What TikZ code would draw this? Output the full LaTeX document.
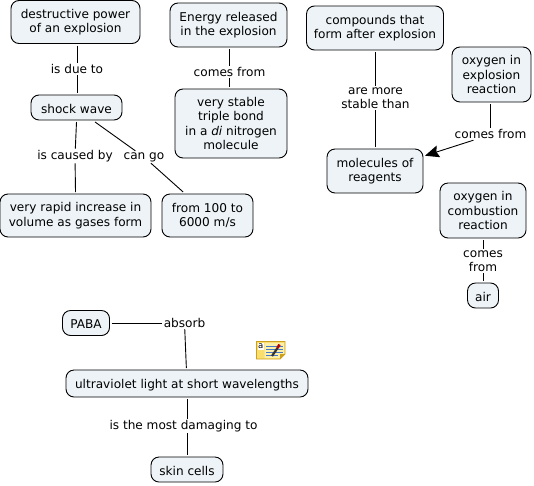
\documentclass[tikz,border=0pt]{standalone}
\usepackage{fontspec}
\setmainfont{DejaVu Sans}
\usetikzlibrary{arrows.meta}
\definecolor{conceptfill}{RGB}{237,243,246}
\definecolor{noteyellow}{RGB}{250,222,110}
\definecolor{notepale}{RGB}{253,240,170}
\definecolor{noteedge}{RGB}{205,160,30}
\definecolor{noteblue}{RGB}{70,120,200}
\tikzset{
  concept/.style={draw, fill=conceptfill, rounded corners=8pt, line width=0.9pt, align=center,
    inner sep=0pt, outer sep=2pt, font=\fontsize{12.1}{14.5}\selectfont,
    execute at begin node=\rule{0pt}{11.5pt}},
  linkphrase/.style={fill=white, align=center, inner sep=1.5pt, outer sep=0pt,
    font=\fontsize{12.1}{14.5}\selectfont},
  link/.style={line width=0.9pt}
}
\begin{document}
\begin{tikzpicture}[x=1pt, y=-1pt, >={Stealth[length=14pt,width=12pt,inset=2pt]}]
  \useasboundingbox (0,0) rectangle (534,485);
  % explosion, left part
  \node[concept, minimum width=129, minimum height=43] (destructive) at (75.5,22) {destructive power\\of an explosion};
  \node[concept, minimum width=91, minimum height=25] (shock) at (76.5,107.5) {shock wave};
  \node[concept, minimum width=151, minimum height=43] (rapid) at (75.5,215.5) {very rapid increase in\\volume as gases form};
  \node[concept, minimum width=91, minimum height=43] (speed) at (207.5,215.5) {from 100 to\\6000 m/s};
  \node[linkphrase] (dueto) at (77,69) {is due to};
  \node[linkphrase] (causedby) at (75,156) {is caused by};
  \node[linkphrase] (cango) at (144,157) {can go};
  \draw[link] (dueto |- destructive.south) -- (dueto);
  \draw[link] (dueto) -- (dueto |- shock.north);
  \draw[link] (shock.south) -- (causedby);
  \draw[link] (causedby) -- (rapid.north);
  \draw[link] (shock.-38) -- (cango);
  \draw[link] (cango) -- (speed.136);
  % energy
  \node[concept, minimum width=117, minimum height=44] (energy) at (228.5,25) {Energy released\\in the explosion};
  \node[concept, minimum width=112, minimum height=69] (triple) at (231,123.5) {very stable\\triple bond\\in a \textit{di} nitrogen\\molecule};
  \node[linkphrase] (comesenergy) at (229.5,72) {comes from};
  \draw[link] (comesenergy |- energy.south) -- (comesenergy);
  \draw[link] (comesenergy) -- (comesenergy |- triple.north);
  % reagents
  \node[concept, minimum width=137, minimum height=44] (compounds) at (375,28) {compounds that\\form after explosion};
  \node[concept, minimum width=96, minimum height=44] (reagents) at (375,171) {molecules of\\reagents};
  \node[linkphrase] (morestable) at (375.5,98) {are more\\stable than};
  \draw[link] (morestable |- compounds.south) -- (morestable);
  \draw[link] (morestable) -- (morestable |- reagents.north);
  % oxygen
  \node[concept, minimum width=79, minimum height=55] (oxyexplosion) at (491.5,74.5) {oxygen in\\explosion\\reaction};
  \node[linkphrase] (comesoxy) at (490.5,134) {comes from};
  \draw[link] (comesoxy |- oxyexplosion.south) -- (comesoxy);
  \draw[link, ->] (comesoxy.200) -- (reagents.17);
  \node[concept, minimum width=86, minimum height=55] (oxycombustion) at (483,210.5) {oxygen in\\combustion\\reaction};
  \node[concept, minimum width=31, minimum height=25] (air) at (483,295.5) {air};
  \node[linkphrase] (comesair) at (483,261) {comes\\from};
  \draw[link] (comesair |- oxycombustion.south) -- (comesair);
  \draw[link] (comesair) -- (comesair |- air.north);
  % ultraviolet
  \node[concept, minimum width=47, minimum height=25] (paba) at (86,323) {PABA};
  \node[concept, minimum width=242, minimum height=27] (ultraviolet) at (187,383.5) {ultraviolet light at short wavelengths};
  \node[concept, minimum width=72, minimum height=25] (skin) at (187,469.5) {skin cells};
  \node[linkphrase] (absorb) at (184.5,323) {absorb};
  \node[linkphrase] (damaging) at (183.5,426) {is the most damaging to};
  \draw[link] (paba) -- (absorb);
  \draw[link] (absorb) -- (ultraviolet);
  \draw[link] (ultraviolet.south) -- (damaging.north -| ultraviolet.south);
  \draw[link] (damaging.south -| skin.north) -- (skin.north);
  % note icon
  \draw[noteedge, fill=noteyellow, line width=0.8pt] (256.5,341.5) -- (285,341.5) -- (285,354) -- (280,359) -- (256.5,359) -- cycle;
  \fill[notepale] (264.5,343) -- (284,343) -- (284,353.5) -- (279.5,358) -- (264.5,358) -- cycle;
  \fill[white] (257.5,342.5) rectangle (264,350);
  \node[inner sep=0pt, font=\fontsize{8.5}{8.5}\selectfont] (notea) at (260.7,346) {a};
  \draw[noteblue, line width=0.8pt] (266,346) -- (283,346) (266,349) -- (283,349) (266,352) -- (283,352) (266,355) -- (278,355);
  \draw[black!80, line width=2.2pt] (272,356) -- (277.5,348);
  \draw[red!75!black, line width=2.6pt] (277.5,348) -- (279.5,344.5);
  \fill[noteedge] (285,354) -- (280,354) -- (280,359) -- cycle;
\end{tikzpicture}
\end{document}
